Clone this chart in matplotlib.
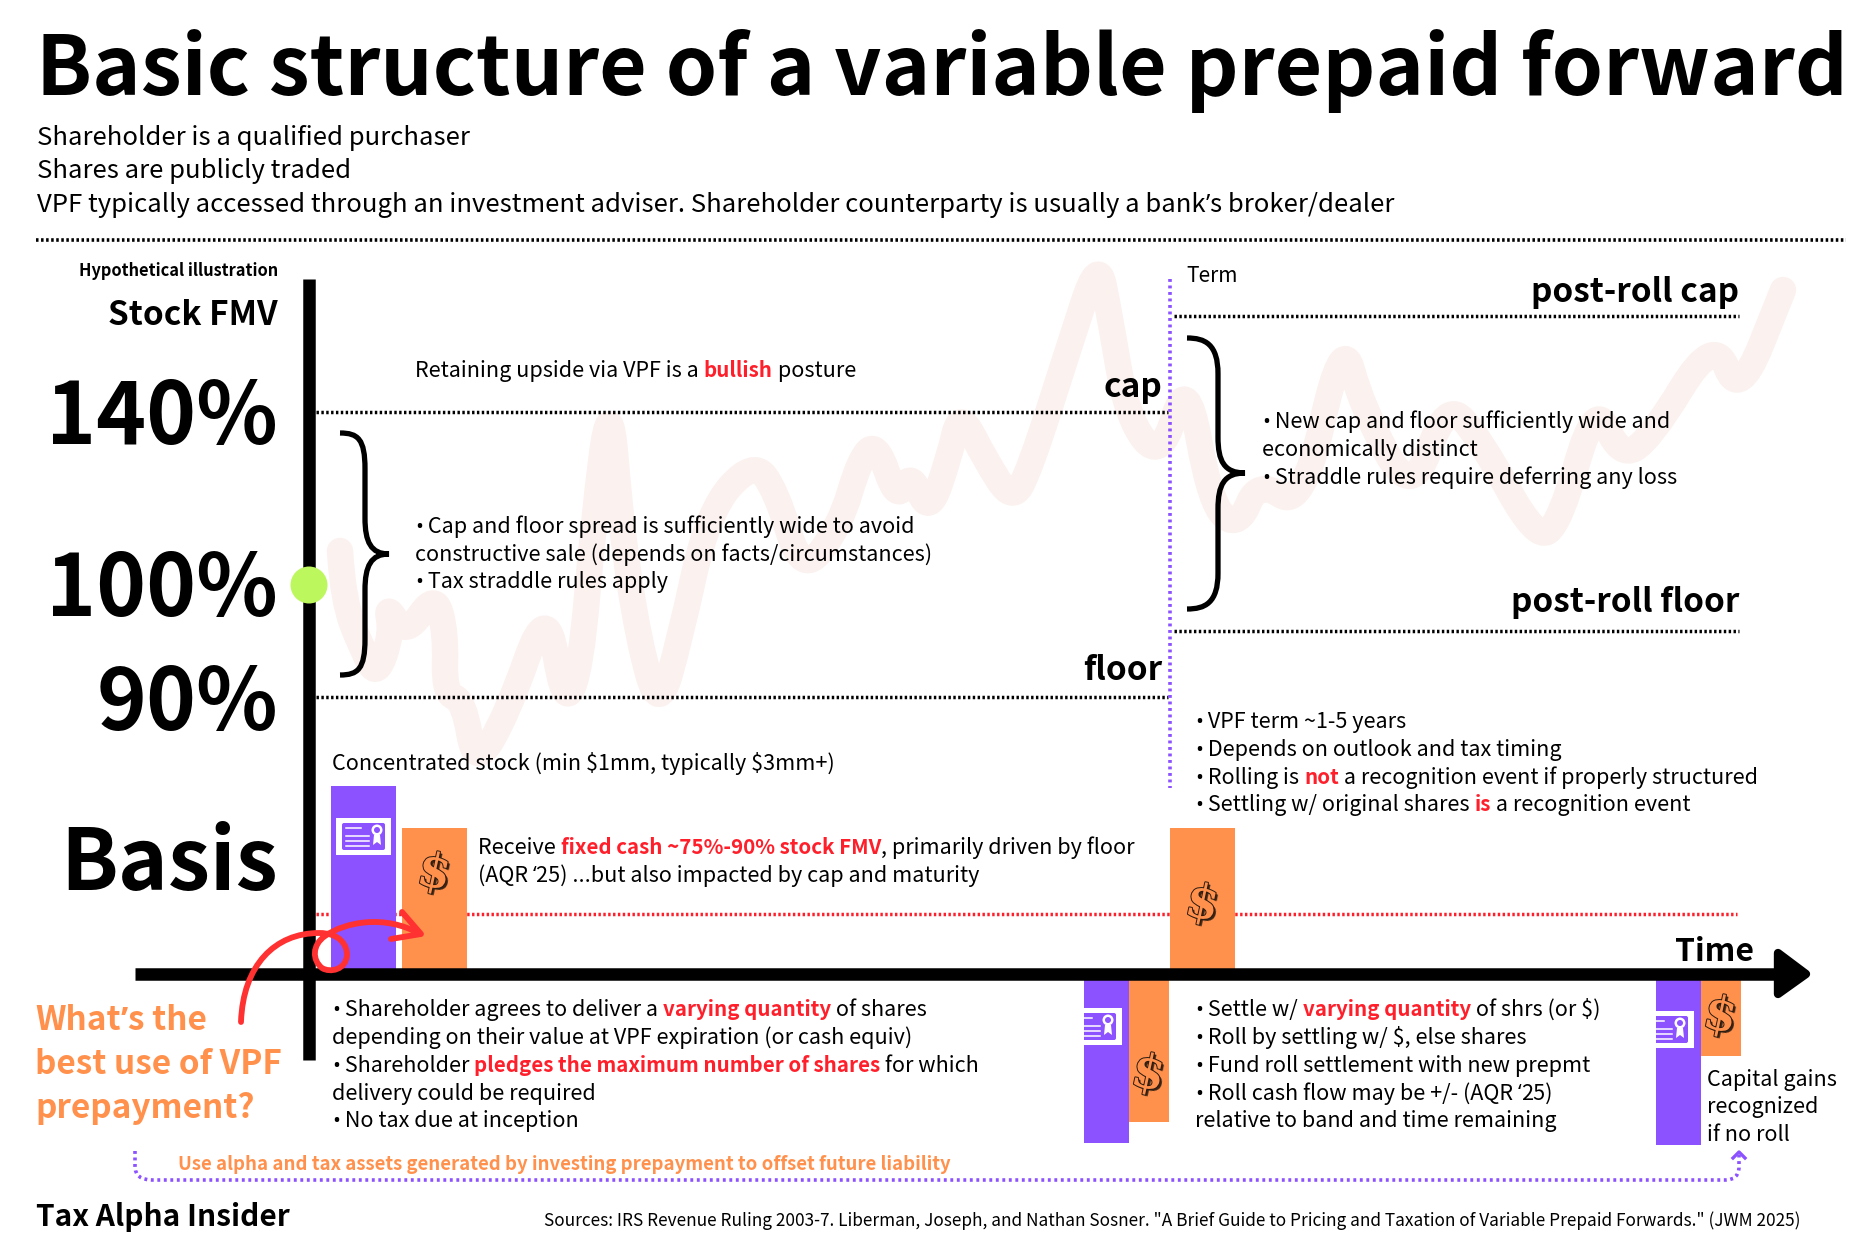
#Basic structure of a variable prepaid forward - infographic drawn on a pixel canvas
import matplotlib
matplotlib.use("Agg")
import matplotlib.pyplot as plt
from matplotlib.path import Path
from matplotlib.patches import PathPatch, Rectangle, Circle, Polygon, FancyBboxPatch
import matplotlib.patheffects as pe

FONT = ["Noto Sans CJK SC", "DejaVu Sans"]
PUNCT_FONT = "Open Sans"   #CJK quotes and bullets come out too wide
PUNCT = "\u2018\u2019\u2022"
BLACK = "#000000"
PURPLE = "#8c52ff"
ORANGE = "#ff914d"
RED = "#ff1f2b"
ARROW_RED = "#ff3131"
GREEN = "#bdf75e"
PINK = "#fbf1ef"

#Title and header lines
title = "Basic structure of a variable prepaid forward"
header_lines = ["Shareholder is a qualified purchaser",
                "Shares are publicly traded",
                "VPF typically accessed through an investment adviser. Shareholder counterparty is usually a bank\u2019s broker/dealer"]

#Left axis labels
level_labels = ["140%", "100%", "90%", "Basis"]
level_baselines = [444, 616, 730, 890]

#Bars: left, right, top, bottom
purple_left = [331, 1084, 1656]
purple_right = [396, 1129, 1701]
purple_top = [786, 980, 980]
purple_bottom = [970, 1143, 1145]
orange_left = [402, 1170, 1129, 1701]
orange_right = [467, 1235, 1169, 1741]
orange_top = [828, 828, 980, 980]
orange_bottom = [970, 970, 1122, 1056]

#Dotted levels: y, x start, x end
black_levels = [(412, 316, 1168), (697, 316, 1168), (316, 1174, 1739), (631, 1174, 1739)]
red_level = (914, 316, 1737)

#Pale stock price squiggle behind everything
squiggle_x = [340, 343, 363, 377, 392, 386, 406, 435, 446, 444, 464, 475, 507, 547, 564, 581, 593, 610, 621,
              639, 659, 679, 708, 753, 776, 802, 840, 860, 877, 897, 911, 929, 949, 960, 986, 1012, 1029,
              1069, 1098, 1109, 1127, 1161, 1187, 1211, 1239, 1258, 1303, 1342, 1362, 1412, 1446, 1481,
              1536, 1560, 1595, 1620, 1650, 1714, 1739, 1783]
squiggle_y = [551, 601, 651, 677, 633, 604, 636, 593, 633, 693, 701, 768, 715, 601, 708, 668, 526, 390, 526,
              643, 711, 643, 511, 461, 490, 576, 526, 458, 443, 501, 472, 515, 458, 410, 461, 501, 472,
              347, 258, 311, 418, 461, 373, 507, 527, 480, 510, 333, 407, 500, 400, 440,
              540, 523, 400, 457, 440, 335, 400, 290]

#Text blocks, each line is a list of (text, bold red?) runs
retain_line = [("Retaining upside via VPF is a ", False), ("bullish", True), (" posture", False)]
band_lines = [[("\u2022 Cap and floor spread is sufficiently wide to avoid", False)],
              [("constructive sale (depends on facts/circumstances)", False)],
              [("\u2022 Tax straddle rules apply", False)]]
band_baselines = [533, 561, 588]
roll_lines = [[("\u2022 New cap and floor sufficiently wide and", False)],
              [("economically distinct", False)],
              [("\u2022 Straddle rules require deferring any loss", False)]]
roll_baselines = [428, 456, 484]
term_lines = [[("\u2022 VPF term ~1-5 years", False)],
              [("\u2022 Depends on outlook and tax timing", False)],
              [("\u2022 Rolling is ", False), ("not", True), (" a recognition event if properly structured", False)],
              [("\u2022 Settling w/ original shares ", False), ("is", True), (" a recognition event", False)]]
term_baselines = [728, 756, 784, 811]
receive_lines = [[("Receive ", False), ("fixed cash ~75%-90% stock FMV", True), (", primarily driven by floor", False)],
                 [("(AQR \u201825) ...but also impacted by cap and maturity", False)]]
receive_baselines = [854, 882]
deliver_lines = [[("\u2022 Shareholder agrees to deliver a ", False), ("varying quantity", True), (" of shares", False)],
                 [("depending on their value at VPF expiration (or cash equiv)", False)],
                 [("\u2022 Shareholder ", False), ("pledges the maximum number of shares", True), (" for which", False)],
                 [("delivery could be required", False)],
                 [("\u2022 No tax due at inception", False)]]
settle_lines = [[("\u2022 Settle w/ ", False), ("varying quantity", True), (" of shrs (or $)", False)],
                [("\u2022 Roll by settling w/ $, else shares", False)],
                [("\u2022 Fund roll settlement with new prepmt", False)],
                [("\u2022 Roll cash flow may be +/- (AQR \u201825)", False)],
                [("relative to band and time remaining", False)]]
below_baselines = [1016, 1044, 1072, 1100, 1127]
gains_lines = [[("Capital gains", False)], [("recognized", False)], [("if no roll", False)]]
gains_baselines = [1086, 1113, 1141]
question_lines = ["What\u2019s the", "best use of VPF", "prepayment?"]
question_baselines = [1030, 1074, 1118]

dollar_x = [434, 1202, 1148, 1720]
dollar_y = [874, 905, 1075, 1017]
icon_left = [336, 1067, 1639]
icon_top = [818, 1008, 1011]

BODY = 15.55

fig = plt.figure(figsize=(18.75, 12.5), dpi=100)
ax = fig.add_axes([0, 0, 1, 1])
ax.set_xlim(0, 1875)
ax.set_ylim(1250, 0)
ax.axis("off")
renderer = fig.canvas.get_renderer()


def raw(x, y, s, size, weight="normal", color=BLACK, ha="left", family=FONT):
    return ax.text(x, y, s, fontsize=size, fontweight=weight, color=color, ha=ha, va="baseline",
                   family=family, zorder=6, parse_math=False)


def run_width(s, size, weight, family):
    #trailing spaces get dropped by the extent so measure against a full stop
    t = raw(0, 0, s + ".", size, weight, family=family)
    w = t.get_window_extent(renderer).width
    t.set_text(".")
    w0 = t.get_window_extent(renderer).width
    t.remove()
    return w - w0


def put(x, y, s, size, weight="normal", color=BLACK):
    #left aligned text, quotes and bullets go through the narrower font
    piece = ""
    for ch in s + "\0":
        if ch in PUNCT or ch == "\0":
            if piece:
                raw(x, y, piece, size, weight, color)
                x += run_width(piece, size, weight, FONT)
            piece = ""
            if ch in PUNCT:
                raw(x, y, ch, size, weight, color, family=PUNCT_FONT)
                x += run_width(ch, size, weight, PUNCT_FONT)
        else:
            piece += ch
    return x


def rich(x, y, runs, size):
    for s, hot in runs:
        #the bold face runs wider than the reference, pull it in a little
        if hot:
            x = put(x, y, s, size * 0.952, "bold", RED)
        else:
            x = put(x, y, s, size)


def block(x, baselines, lines, size):
    for y, runs in zip(baselines, lines):
        rich(x, y, runs, size)


def dotted(xs, ys, color=BLACK, lw=2.5, dash=(0.7, 0.7), z=2):
    ax.plot(xs, ys, color=color, lw=lw, linestyle=(0, dash), dash_capstyle="butt", zorder=z)


def brace(x0, xs, xt, y0, ym, y1):
    verts = [(x0, y0), (x0 + 18, y0), (xs, y0 + 6), (xs, y0 + 36), (xs, ym - 36),
             (xs, ym - 12), (xs + 6, ym), (xt, ym), (xs + 6, ym), (xs, ym + 12), (xs, ym + 36),
             (xs, y1 - 36), (xs, y1 - 6), (x0 + 18, y1), (x0, y1)]
    codes = [Path.MOVETO, Path.CURVE4, Path.CURVE4, Path.CURVE4, Path.LINETO,
             Path.CURVE4, Path.CURVE4, Path.CURVE4, Path.CURVE4, Path.CURVE4, Path.CURVE4,
             Path.LINETO, Path.CURVE4, Path.CURVE4, Path.CURVE4]
    ax.add_patch(PathPatch(Path(verts, codes), fill=False, ec=BLACK, lw=3.8, zorder=5))


def certificate(left, top, bar):
    #white tag with a small purple certificate on it, clipped to its bar
    parts = [Rectangle((left, top), 55, 37, fc="white", ec="none", zorder=5),
             FancyBboxPatch((left + 6, top + 5), 43, 27, boxstyle="round,pad=0,rounding_size=2",
                            fc=PURPLE, ec="none", zorder=5.1),
             Circle((left + 41, top + 12), 5.5, fc="white", ec="none", zorder=5.2),
             Circle((left + 41, top + 12), 3, fc=PURPLE, ec="none", zorder=5.3),
             Polygon([(left + 38, top + 17), (left + 44, top + 17), (left + 45, top + 27),
                      (left + 41, top + 24), (left + 37, top + 27)], fc="white", ec="none", zorder=5.2)]
    for p in parts:
        ax.add_patch(p)
        p.set_clip_path(bar)
    for dy, x1 in zip([10, 18, 23, 28], [25, 33, 33, 33]):
        l, = ax.plot([left + 10, left + x1], [top + dy, top + dy], color="white", lw=1.1, zorder=5.2)
        l.set_clip_path(bar)


#Squiggle, smoothed with quadratic segments through the midpoints
pts = list(zip(squiggle_x, squiggle_y))
verts = [pts[0]]
codes = [Path.MOVETO]
for a, b in zip(pts[1:-1], pts[2:]):
    verts += [a, ((a[0] + b[0]) / 2, (a[1] + b[1]) / 2)]
    codes += [Path.CURVE3, Path.CURVE3]
verts.append(pts[-1])
codes.append(Path.LINETO)
ax.add_patch(PathPatch(Path(verts, codes), fill=False, ec=PINK, lw=19, capstyle="round", joinstyle="round", zorder=1))

#Header
raw(36, 95, title, 59.3, "bold")
for y, s in zip([145, 178, 212], header_lines):
    put(37, y, s, 18.5)
dotted([36, 1846], [240, 240], lw=2.6)
raw(278, 276, "Hypothetical illustration", 11.8, "bold", ha="right")
raw(278, 325, "Stock FMV", 24, "bold", ha="right")
for y, s in zip(level_baselines, level_labels):
    raw(278, y, s, 61, "bold", ha="right")

#Dotted levels
for y, x0, x1 in black_levels:
    dotted([x0, x1], [y, y])
dotted([red_level[1], red_level[2]], [red_level[0], red_level[0]], color=RED)
dotted([1170, 1170], [279, 788], color=PURPLE, lw=2.6, dash=(0.8, 1.0))

#Bars
purple_bars = ax.bar(purple_left, [b - t for b, t in zip(purple_bottom, purple_top)],
                     width=[r - l for r, l in zip(purple_right, purple_left)], bottom=purple_top,
                     align="edge", color=PURPLE, zorder=3)
ax.bar(orange_left, [b - t for b, t in zip(orange_bottom, orange_top)],
       width=[r - l for r, l in zip(orange_right, orange_left)], bottom=orange_top,
       align="edge", color=ORANGE, zorder=3)
for left, top, bar in zip(icon_left, icon_top, purple_bars):
    certificate(left, top, bar)
for x, y in zip(dollar_x, dollar_y):
    #dark copy underneath gives the sketched, shaded look
    ax.text(x + 2, y + 2, "$", fontsize=34, fontweight="bold", family="DejaVu Serif", color="#3a2415", rotation=-12,
            ha="center", va="center", zorder=5, parse_math=False)
    t = ax.text(x, y, "$", fontsize=34, fontweight="bold", family="DejaVu Serif", color=ORANGE, rotation=-12,
                ha="center", va="center", zorder=5.1, parse_math=False)
    t.set_path_effects([pe.withStroke(linewidth=1.4, foreground="#2a1a10")])

#Axes
ax.plot([309, 309], [279, 1060], color=BLACK, lw=9, solid_capstyle="butt", zorder=4)
ax.plot([135, 1780], [974, 974], color=BLACK, lw=9, solid_capstyle="butt", zorder=4)
ax.add_patch(Polygon([(1778, 953), (1806, 974), (1778, 994)], closed=True, fc=BLACK, ec=BLACK, lw=6,
                     joinstyle="round", zorder=4))
ax.add_patch(Circle((309, 585), 18.5, fc=GREEN, ec="none", zorder=5))

#Braces
brace(340, 365, 389, 433, 554, 675)
brace(1187, 1218, 1245, 338, 473, 609)

#Labels on the levels
raw(1162, 397, "cap", 24, "bold", ha="right")
raw(1162, 680, "floor", 24, "bold", ha="right")
raw(1739, 302, "post-roll cap", 24, "bold", ha="right")
raw(1739, 612, "post-roll floor", 24, "bold", ha="right")
raw(1186, 282, "Term", 15)
raw(1675, 961, "Time", 23, "bold")

#Body text
rich(415, 377, retain_line, BODY)
block(415, band_baselines, band_lines, BODY)
block(1262, roll_baselines, roll_lines, BODY)
block(1195, term_baselines, term_lines, BODY)
raw(332, 770, "Concentrated stock (min $1mm, typically $3mm+)", BODY)
block(478, receive_baselines, receive_lines, BODY)
block(332, below_baselines, deliver_lines, BODY)
block(1195, below_baselines, settle_lines, BODY)
block(1707, gains_baselines, gains_lines, BODY)

#Question and bottom lines
for y, s in zip(question_baselines, question_lines):
    put(35, y, s, 24, "bold", ORANGE)
raw(178, 1170, "Use alpha and tax assets generated by investing prepayment to offset future liability", 13.35, "bold", ORANGE)
raw(36, 1226, "Tax Alpha Insider", 21.5, "bold")
raw(1800, 1226, "Sources: IRS Revenue Ruling 2003-7. Liberman, Joseph, and Nathan Sosner. \"A Brief Guide to Pricing and Taxation of Variable Prepaid Forwards.\" (JWM 2025)",
    12.4, ha="right")

#Red hand drawn arrow
arrow_verts = [(241, 1022), (243, 965), (275, 933), (319, 933), (340, 933), (347, 945), (347, 955),
               (346, 970), (330, 973), (322, 968), (312, 960), (312, 945), (325, 936),
               (345, 922), (385, 914), (420, 934)]
arrow_codes = [Path.MOVETO] + [Path.CURVE4] * 15
ax.add_patch(PathPatch(Path(arrow_verts, arrow_codes), fill=False, ec=ARROW_RED, lw=4.2, capstyle="round", zorder=7))
ax.plot([402, 421, 391], [912, 934, 939], color=ARROW_RED, lw=4.2, solid_capstyle="round", solid_joinstyle="round", zorder=7)

#Purple dotted loop along the bottom
loop_verts = [(135, 1151), (135, 1166), (135, 1180), (152, 1180), (1726, 1180), (1738, 1180), (1739, 1168), (1739, 1155)]
loop_codes = [Path.MOVETO, Path.LINETO, Path.CURVE3, Path.CURVE3, Path.LINETO, Path.CURVE3, Path.CURVE3, Path.LINETO]
ax.add_patch(PathPatch(Path(loop_verts, loop_codes), fill=False, ec=PURPLE, lw=2.6, linestyle=(0, (0.8, 1.0)), zorder=2))
ax.plot([1733, 1739, 1745], [1158, 1152, 1158], color=PURPLE, lw=2.4, zorder=2)

fig.savefig("out.png", dpi=100)
